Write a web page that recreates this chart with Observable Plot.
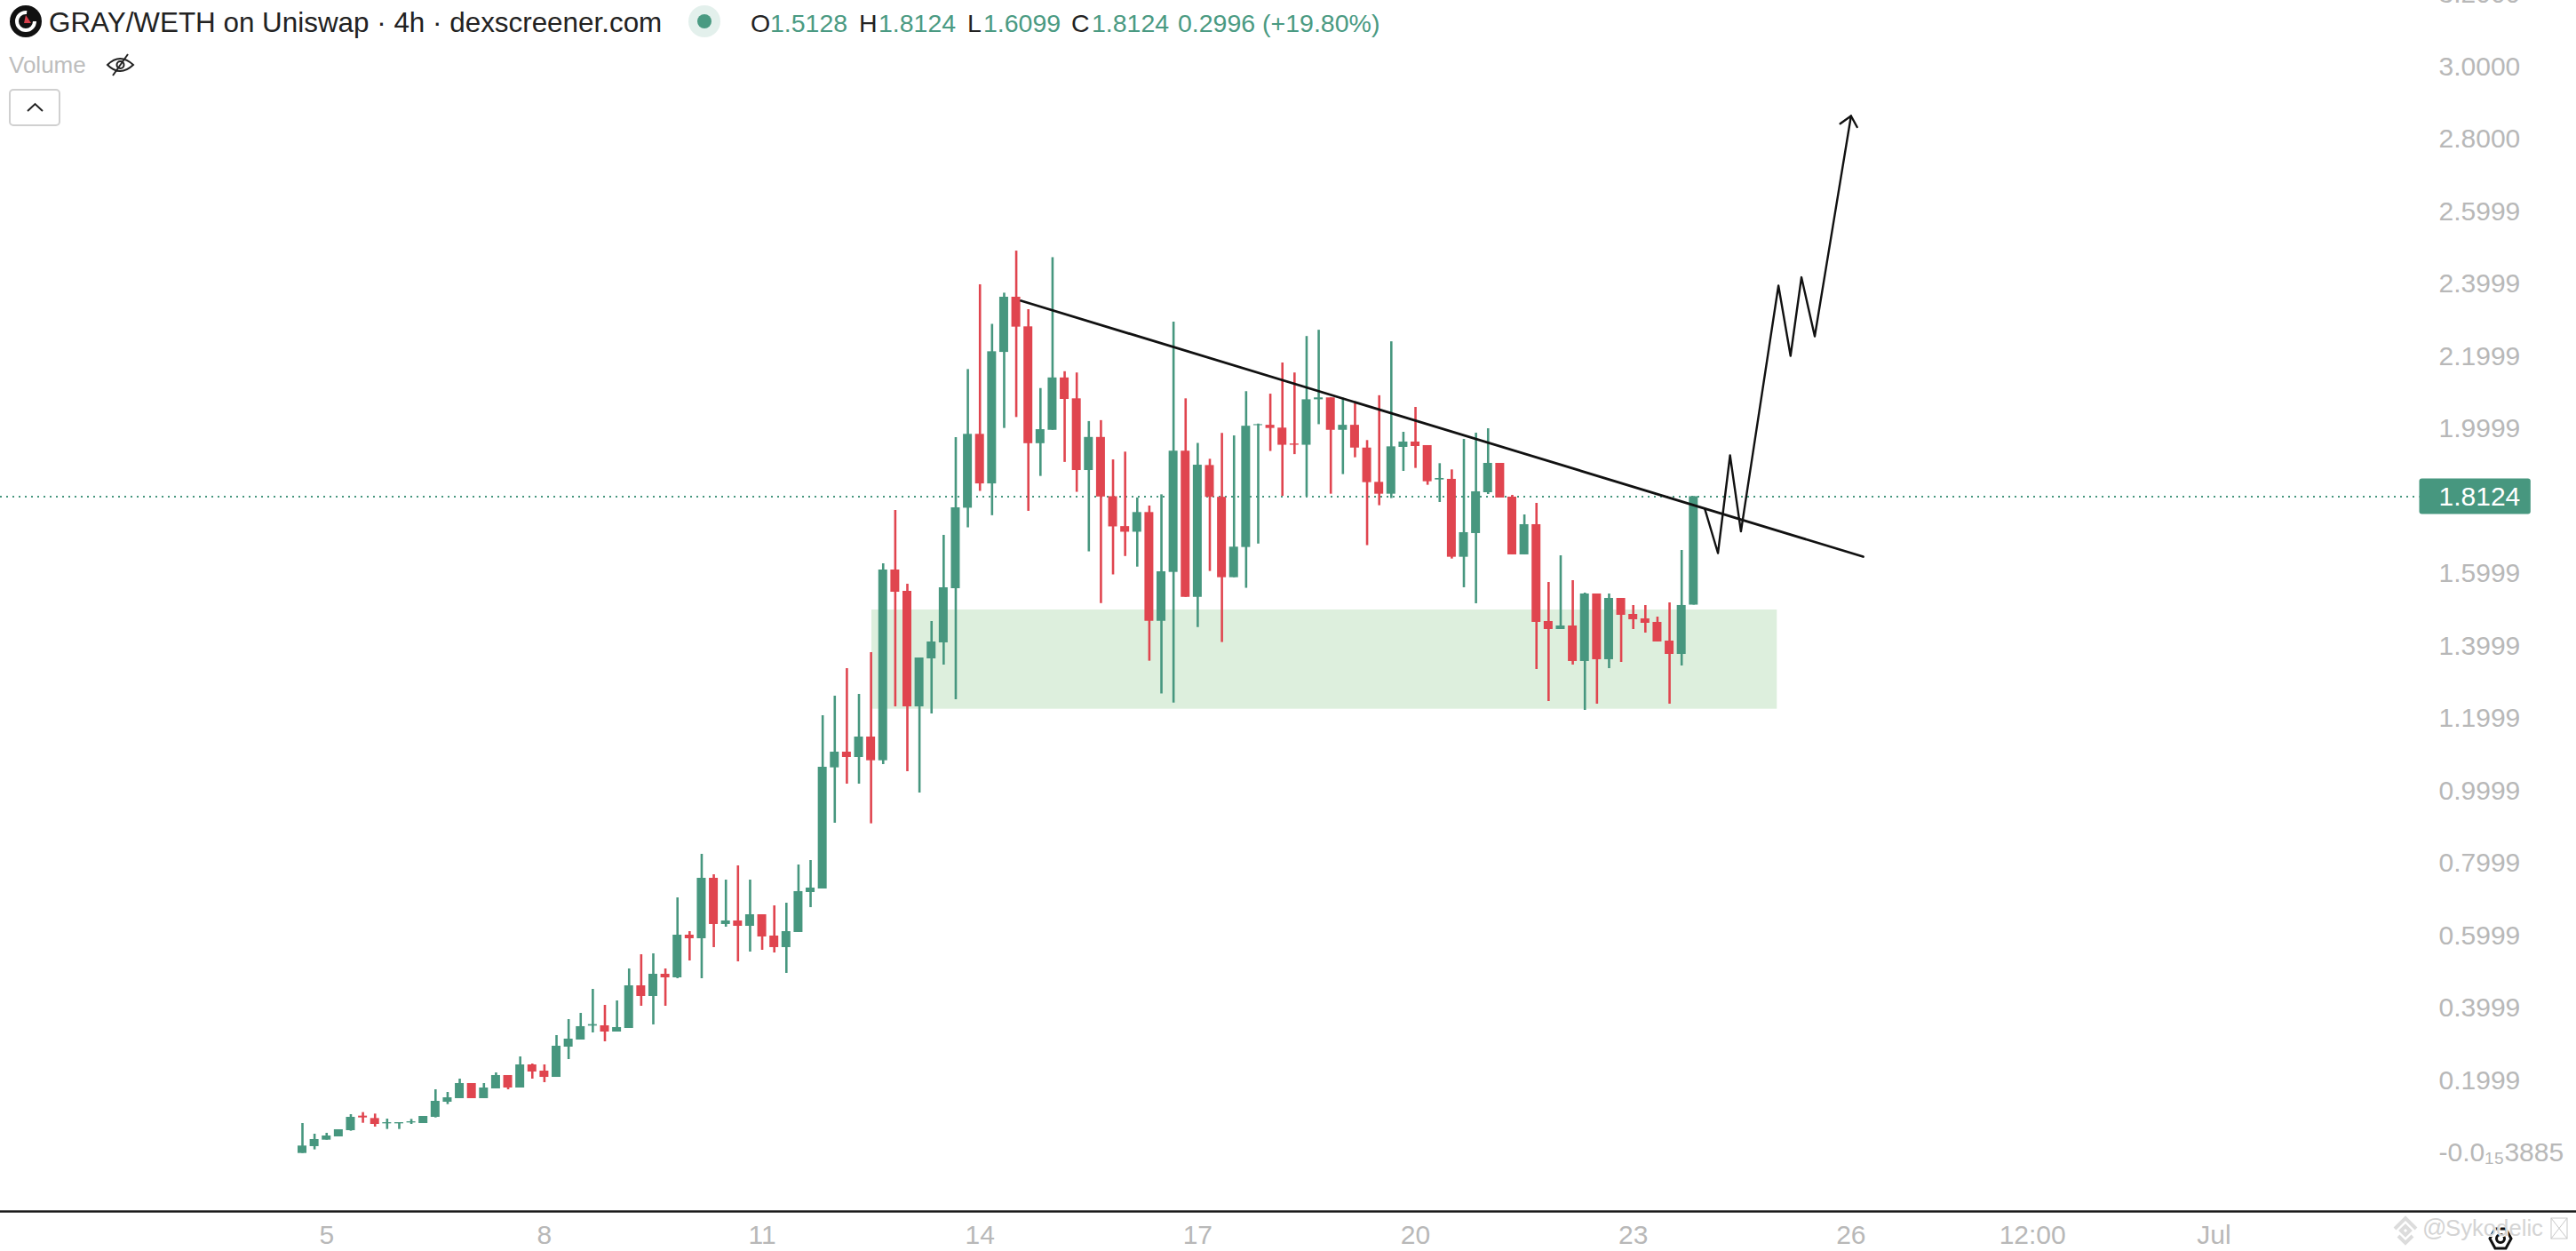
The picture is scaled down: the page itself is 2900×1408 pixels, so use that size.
<!DOCTYPE html>
<html><head><meta charset="utf-8">
<script src="https://cdn.jsdelivr.net/npm/d3@7"></script>
<script src="https://cdn.jsdelivr.net/npm/@observablehq/plot@0.6"></script>
<style>
html,body{margin:0;padding:0;background:#fff;width:2900px;height:1408px;overflow:hidden;font-family:"Liberation Sans",sans-serif}
#chart{position:absolute;left:0;top:0}
.h{position:absolute;white-space:nowrap;line-height:1}
.o{position:absolute;white-space:nowrap;line-height:1;top:12px;font-size:28.5px}
.g{color:#4a9a82}.k{color:#222}
</style></head><body>
<div id="chart"></div>
<svg class="h" style="left:0;top:0" width="70" height="50"><circle cx="29" cy="24" r="18" fill="#111"/><circle cx="29" cy="24" r="10" fill="none" stroke="#fff" stroke-width="4" stroke-dasharray="48 15"/><path d="M29 17l6 9h-8z" fill="#d8404c"/></svg>
<div class="h k" id="title" style="left:55px;top:10px;font-size:31.4px">GRAY/WETH on Uniswap · 4h · dexscreener.com</div>
<svg class="h" style="left:770px;top:2px" width="46" height="46"><circle cx="23" cy="22" r="18" fill="#e3f0ec"/><circle cx="23" cy="22" r="8" fill="#4a9a82"/></svg>
<span class="o k" style="left:845px">O</span><span class="o g" style="left:867px">1.5128</span>
<span class="o k" style="left:967px">H</span><span class="o g" style="left:989px">1.8124</span>
<span class="o k" style="left:1089px">L</span><span class="o g" style="left:1107px">1.6099</span>
<span class="o k" style="left:1206px">C</span><span class="o g" style="left:1229px">1.8124</span>
<span class="o g" style="left:1326px">0.2996 (+19.80%)</span>
<div class="h" style="left:10px;top:60px;font-size:26px;color:#bdbdbd">Volume</div>
<svg class="h" style="left:118px;top:58px" width="36" height="30" fill="none" stroke="#222" stroke-width="2"><path d="M3 15q14-14 29 0q-15 14-29 0z"/><circle cx="17.500" cy="15" r="4"/><path d="M26 3L9 27"/></svg>
<svg class="h" style="left:10px;top:100px" width="58" height="42"><rect x="1" y="1" width="56" height="40" rx="4" fill="#fff" stroke="#d0d0d0" stroke-width="2"/><path d="M21 25l8.500-8l8.500 8" fill="none" stroke="#222" stroke-width="2"/></svg>
<svg class="h" style="left:2690px;top:1362px" width="210" height="46">
<g transform="translate(125,32)" fill="none" stroke="#111" stroke-width="3"><path d="M-12 0l6-11h12l6 11l-6 11h-12z"/><circle r="4.500"/></g>
<g fill="none" stroke="#dcdcdc" stroke-width="4"><path d="M6 21l12-12l12 12"/><path d="M10 29l8 8l8-8"/><path d="M13 23l5-5l5 5l-5 5z"/></g>
<rect x="182" y="9" width="18" height="23" fill="#fff" stroke="#c8c8c8"/><path d="M182 9l18 23M200 9l-18 23" stroke="#c8c8c8"/>
</svg>
<div class="h" style="left:2727px;top:1369px;font-size:27px;color:#d4d4d4">@</div>
<div class="h" style="left:2753px;top:1370px;font-size:25.700px;color:#d4d4d4;text-shadow:1px 1px 0 #fff">Sykodelic</div>
<script>
const highs=[.0809,.0515,.0539,.0638,.1055,.1112,.1071,.0932,.0834,.0924,.1006,.1742,.1668,.2036,.1914,.1914,.2208,.2135,.2650,.2453,
.2429,.3239,.3681,.3853,.4515,.4074,.4196,.5079,.5472,.5497,.5079,.7043,.6110,.8245,.7681,.7534,.7926,.7534,.6576,.6822,
.6896,.7951,.8073,1.2073,1.2613,1.3374,1.2662,1.3816,1.6270,1.7742,1.5705,1.3668,1.4675,1.7055,1.9755,2.1635,2.3976,2.2883,2.3744,2.4906,
2.3288,2.1110,2.4725,2.1575,2.1540,2.0198,2.0224,1.9139,1.9354,1.8089,1.7865,1.8175,2.2943,2.0826,1.9595,1.9156,1.9871,1.9802,2.1024,2.0129,
2.0955,2.1816,2.1540,2.2547,2.2720,2.0852,2.0843,2.0697,1.9673,2.0912,2.2401,1.9902,2.0589,1.9534,1.9035,1.8863,1.9706,1.9878,2.0000,1.9043,
1.8160,1.7620,1.7939,1.5755,1.6491,1.5804,1.5460,1.5436,1.5436,1.5313,1.5117,1.5117,1.4798,1.5190,1.6638,1.8124];
const lows=[-.0017,.0082,.0351,.0441,.0597,.0817,.0712,.0646,.0646,.0785,.0809,.0965,.1333,.1497,.1497,.1497,.1767,.1742,.1791,.2036,
.1938,.2085,.2576,.3116,.3313,.3067,.3337,.3435,.4049,.3534,.4049,.4810,.5300,.4810,.5669,.6233,.5276,.5546,.5595,.5521,
.4957,.6086,.6773,.7288,.9104,1.0184,1.0184,.9088,1.0724,1.2319,1.0527,.9938,1.2123,1.3472,1.2515,1.7263,1.8270,1.7598,2.0008,2.0310,
1.7719,1.8683,1.9957,1.9070,1.8244,1.6600,1.5171,1.5963,1.6471,1.6178,1.3579,1.2675,1.2426,1.5343,1.4509,1.6058,1.4096,1.5886,1.5593,1.6815,
1.9372,1.8132,1.9285,1.8115,2.0112,1.8192,1.8734,1.9199,1.6772,1.7874,1.8072,1.8822,1.8904,1.8438,1.7963,1.6401,1.5608,1.5166,1.8184,1.8086,
1.6516,1.6516,1.3350,1.2466,1.4454,1.3473,1.2221,1.2393,1.3374,1.3546,1.4454,1.4356,1.4111,1.2393,1.3448,1.5128];
const bodyTops=[.0188,.0368,.0466,.0638,.0981,.1014,.0948,.0834,.0834,.0858,.1006,.1423,.1521,.1914,.1914,.1791,.2135,.2135,.2429,.2429,
.2257,.2945,.3141,.3485,.3542,.3509,.3460,.4613,.4613,.4932,.4932,.6012,.6012,.7583,.7583,.6405,.6405,.6576,.6576,.5988,
.6110,.7215,.7313,1.065,1.1067,1.1067,1.1484,1.1484,1.6098,1.6098,1.5509,1.3668,1.4110,1.5607,1.7816,1.9845,1.9845,2.2126,2.3632,2.3632,
2.2814,1.9974,2.1403,2.1403,2.0826,1.9759,1.9759,1.8123,1.7297,1.7685,1.7685,1.6049,1.9380,1.9380,1.8993,1.8984,1.8106,1.6729,2.0069,2.0112,
2.0095,2.0017,1.9578,2.0800,2.0852,2.0852,2.0095,2.0095,1.9466,1.8519,1.9500,1.9632,1.9632,1.9534,1.8626,1.8602,1.7129,1.8258,1.9043,1.9043,
1.8111,1.7350,1.7350,1.4675,1.4552,1.4552,1.5436,1.5436,1.5313,1.5313,1.4871,1.4749,1.4651,1.4135,1.5117,1.8124];
const bodyBottoms=[-.0017,.0172,.0351,.0441,.0613,.0965,.0785,.0801,.0801,.0826,.0809,.0981,.1398,.1497,.1497,.1497,.1767,.1791,.1791,.2233,
.2085,.2085,.2920,.3116,.3501,.3337,.3337,.3435,.4319,.4319,.4834,.4834,.5914,.5914,.6307,.6307,.6257,.6257,.5963,.5669,
.5669,.6086,.7190,.7288,1.0634,1.0920,1.0920,1.0830,1.0830,1.5484,1.2319,1.2319,1.3644,1.4086,1.5582,1.7805,1.8476,1.8476,2.2108,2.2806,
1.9587,1.9587,1.9957,2.0809,1.8846,1.8846,1.8115,1.7289,1.7142,1.7142,1.4681,1.4681,1.6032,1.5343,1.5343,1.8106,1.5886,1.5886,1.6720,2.0086,
2.0008,1.9544,1.9544,1.9544,2.0800,1.9957,1.9957,1.9466,1.8511,1.8192,1.8192,1.9485,1.9509,1.8536,1.8585,1.6450,1.6450,1.7105,1.8233,1.8086,
1.6516,1.6516,1.4651,1.4454,1.4454,1.3571,1.3571,1.3620,1.3620,1.4847,1.4724,1.4626,1.4111,1.3767,1.3767,1.5128];
const directions="GGGGGRRGGG"+"GGGGRGGRGR"+"RGGGGRGGRG"+"RGRGRGRGRR"+"GGGGGRGRGR"+"RGGGGGRGGR"+"RGGRRGRRRG"+"RGGRGRRGGG"+"RRRGGRGRRR"+"GGRRGRGGGR"+"RGRRGRGRGR"+"RRRRGG";
const lastPrice=[1.8124];
const zone={i1:47.06,i2:121.9,top:1.4994,bottom:1.2253};
const trendI=[59.4,129.0], trendP=[2.3534,1.6466];
const pathI=[115.9,117.0,118.0,118.9,122.0,123.0,123.9,125.0,128.0], pathP=[1.7799,1.6564,1.9264,1.7163,2.3951,2.2012,2.4182,2.2552,2.8638];
const headI=[127.1,128.0,128.5], headP=[2.8425,2.8638,2.8331];
const yTicks=[3.2,3.0,2.8,2.6,2.4,2.2,2.0,1.6,1.4,1.2,1.0,.8,.6,.4,.2,0];
const yLabels=["3.2000","3.0000","2.8000","2.5999","2.3999","2.1999","1.9999","1.5999","1.3999","1.1999","0.9999","0.7999","0.5999","0.3999","0.1999","-0.0₁₅3885"];
const xTicks=[2,20,38,56,74,92,110,128,143,158];
const xLabels=["5","8","11","14","17","20","23","26","12:00","Jul"];
const GREEN="#47977f", RED="#e0454f", AXIS="#b8b8b8";

const candles=highs.map((h,i)=>({i,h,l:lows[i],t:bodyTops[i],b:bodyBottoms[i],up:directions[i]==="G"}));
const color=d=>d.up?GREEN:RED;
const plot=Plot.plot({
  width:2900,height:1408,marginLeft:0,marginRight:0,marginTop:0,marginBottom:45,
  style:{background:"#fff",fontFamily:"'Liberation Sans',sans-serif",fontSize:"30px",overflow:"hidden"},
  x:{type:"linear",domain:[-24.963,187.959],axis:null},
  y:{type:"linear",domain:[-0.162,3.1828],axis:null},
  marks:[
    Plot.rect([zone],{x1:"i1",x2:"i2",y1:"bottom",y2:"top",fill:"#ddefdd"}),
    Plot.ruleY(lastPrice,{stroke:GREEN,strokeWidth:2,strokeDasharray:"2 5",x1:-24.963,x2:175}),
    Plot.ruleX(candles,{x:"i",y1:"l",y2:"h",stroke:color,strokeWidth:2.6}),
    Plot.rect(candles,{x1:d=>d.i-.367,x2:d=>d.i+.367,y1:"b",y2:"t",fill:color}),
    Plot.line(trendI.map((x,k)=>({x,y:trendP[k]})),{x:"x",y:"y",stroke:"#111",strokeWidth:2.8}),
    Plot.line(pathI.map((x,k)=>({x,y:pathP[k]})),{x:"x",y:"y",stroke:"#111",strokeWidth:2.4}),
    Plot.line(headI.map((x,k)=>({x,y:headP[k]})),{x:"x",y:"y",stroke:"#111",strokeWidth:2.4}),
    Plot.axisY({anchor:"right",ticks:yTicks,tickSize:0,tickPadding:-155,textAnchor:"start",tickFormat:d=>yLabels[yTicks.indexOf(d)],fill:AXIS,label:null,fontSize:30}),
    Plot.axisX({anchor:"bottom",ticks:xTicks,tickSize:0,tickPadding:15,tickFormat:d=>xLabels[xTicks.indexOf(d)],fill:AXIS,label:null,fontSize:30}),
    Plot.ruleY([-0.162],{stroke:"#1a1a1a",strokeWidth:2.4}),
    Plot.rect(lastPrice,{x1:175.0,x2:184.2,y1:d=>d-.049,y2:d=>d+.049,fill:GREEN,rx:3}),
    Plot.text(lastPrice,{x:176.58,y:d=>d,text:d=>d.toFixed(4),fill:"#fff",fontSize:30,textAnchor:"start"})
  ]
});
document.getElementById("chart").appendChild(plot);
</script></body></html>
